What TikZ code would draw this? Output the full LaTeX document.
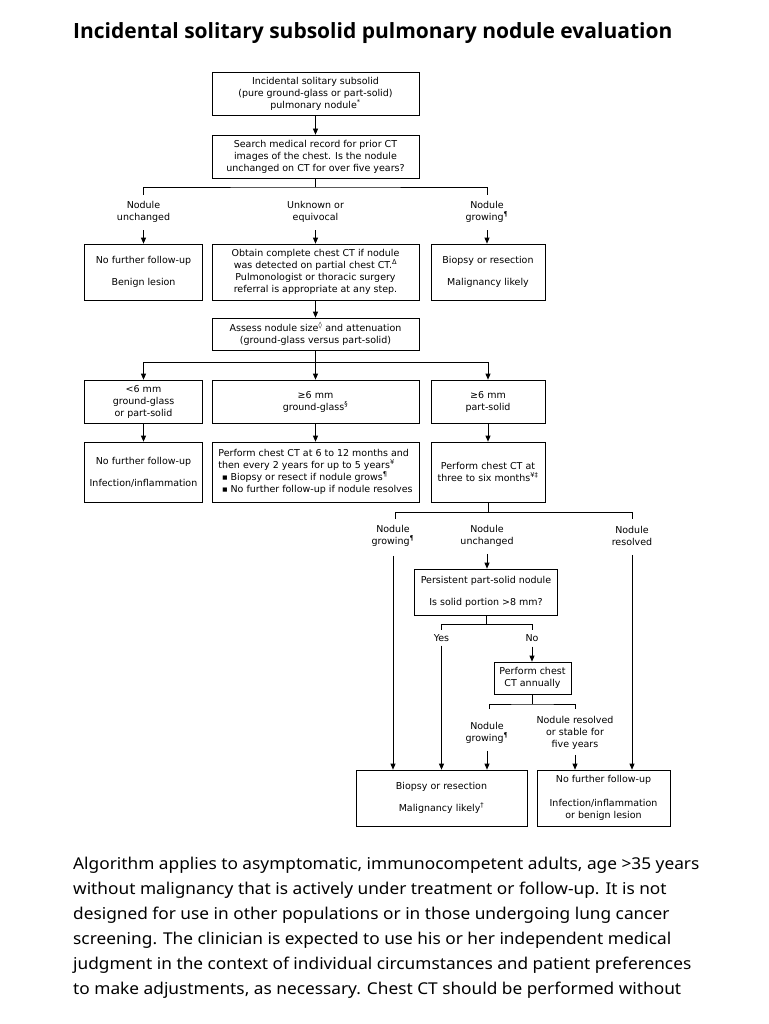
\documentclass[tikz,border=0pt]{standalone}
\usepackage{fontspec}
\setmainfont{DejaVu Sans}
\newfontfamily\dv{DejaVu Sans}
\newfontfamily\noto[FakeStretch=1.06]{Noto Sans}
\newfontfamily\titlefont{Open Sans}
\usetikzlibrary{arrows.meta}
\newcommand{\bul}{{\fontsize{5.5}{5}\selectfont\raisebox{0.8pt}{■}}}
\begin{document}
\begin{tikzpicture}[x=1pt,y=-1pt,
  box/.style={draw, line width=0.7pt, align=center, inner sep=1pt, font=\dv\fontsize{9.5}{12}\selectfont},
  lbl/.style={align=center, inner sep=1pt, font=\dv\fontsize{9.5}{12}\selectfont},
  arr/.style={line width=0.7pt, -{Triangle[length=6pt,width=5pt]}},
  ln/.style={line width=0.7pt},
  para/.style={anchor=base west, inner sep=0pt, font=\noto\fontsize{16.3}{25}\selectfont}]
\fill[white] (0,0) rectangle (768,1024);
\useasboundingbox (0,0) rectangle (768,1024);

\node[anchor=base west, inner sep=0pt, font=\titlefont\bfseries\fontsize{21}{25}\selectfont] (title) at (73,38.3) {Incidental solitary subsolid pulmonary nodule evaluation};

% top
\node[box, minimum width=207, minimum height=43] (b1) at (315.5,93.5) {Incidental solitary subsolid\\(pure ground-glass or part-solid)\\pulmonary nodule\textsuperscript{*}};
\node[box, minimum width=207, minimum height=43] (b2) at (315.5,156.5) {Search medical record for prior CT\\images of the chest. Is the nodule\\unchanged on CT for over five years?};
\draw[arr] (b1.south) -- (b2.north);

\coordinate (j1) at (315.5,187);
\coordinate (t1a) at (143.5,195);
\coordinate (t1c) at (487,195);
\draw[ln] (b2.south) -- (j1);
\draw[ln] (t1a) |- (j1) -| (t1c);
\node[lbl] (l1a) at (143.5,211.5) {Nodule\\unchanged};
\node[lbl] (l1b) at (315.5,211.5) {Unknown or\\equivocal};
\node[lbl] (l1c) at (487,211.5) {Nodule\\growing\textsuperscript{¶}};

\node[box, minimum width=118, minimum height=56] (b3a) at (143.5,272) {No further follow-up\\[9.7pt]Benign lesion};
\node[box, minimum width=207, minimum height=56] (b3b) at (315.5,272) {Obtain complete chest CT if nodule\\was detected on partial chest CT.\textsuperscript{Δ}\\Pulmonologist or thoracic surgery\\referral is appropriate at any step.};
\node[box, minimum width=114, minimum height=56] (b3c) at (488,272) {Biopsy or resection\\[9.7pt]Malignancy likely};
\draw[arr] (l1a.south) ++(0,7) -- (b3a.north);
\draw[arr] (l1b.south) ++(0,7) -- (b3b.north);
\draw[arr] (l1c.south) ++(0,7) -- (l1c.south |- b3c.north);

\node[box, minimum width=207, minimum height=32] (b4) at (315.5,334) {Assess nodule size\textsuperscript{◊} and attenuation\\(ground-glass versus part-solid)};
\draw[arr] (b3b.south) -- (b4.north);

\node[box, minimum width=118, minimum height=43] (b5a) at (143.5,401.5) {<6 mm\\ground-glass\\or part-solid};
\node[box, minimum width=207, minimum height=43] (b5b) at (315.5,401.5) {≥6 mm\\ground-glass\textsuperscript{§}};
\node[box, minimum width=114, minimum height=43] (b5c) at (488,401.5) {≥6 mm\\part-solid};
\coordinate (j2) at (315.5,362);
\draw[ln] (b4.south) -- (j2);
\draw[arr] (j2) -| (b5a.north);
\draw[arr] (j2) -| (b5c.north);
\draw[arr] (j2) -- (b5b.north);

\node[box, minimum width=118, minimum height=60] (b6a) at (143.5,472) {No further follow-up\\[10pt]Infection/inflammation};
\node[box, minimum width=207, minimum height=60, align=left] (b6b) at (315.5,472) {Perform chest CT at 6 to 12 months and\\then every 2 years for up to 5 years\textsuperscript{¥}\\\hspace*{4pt}\bul\ Biopsy or resect if nodule grows\textsuperscript{¶}\\\hspace*{4pt}\bul\ No further follow-up if nodule resolves};
\node[box, minimum width=114, minimum height=60] (b6c) at (488,472) {Perform chest CT at\\three to six months\textsuperscript{¥‡}};
\draw[arr] (b5a.south) -- (b6a.north);
\draw[arr] (b5b.south) -- (b6b.north);
\draw[arr] (b5c.south) -- (b6c.north);

% lower branch
\coordinate (j3) at (488,512.5);
\coordinate (t3a) at (395,518.5);
\coordinate (t3c) at (632,518.5);
\draw[ln] (b6c.south) -- (j3);
\draw[ln] (t3a) |- (j3) -| (t3c);
\node[lbl] (l3a) at (393,536) {Nodule\\growing\textsuperscript{¶}};
\node[lbl] (l3b) at (487,536) {Nodule\\unchanged};
\node[lbl] (l3c) at (632,536) {Nodule\\resolved};

\node[box, minimum width=143, minimum height=46] (b7) at (486,592) {Persistent part-solid nodule\\[10.5pt]Is solid portion >8 mm?};
\draw[arr] (l3b.south) ++(0,6) -- (l3b.south |- b7.north);

\coordinate (j4) at (486,624.5);
\coordinate (ty) at (441.5,629.5);
\coordinate (tn) at (532,629.5);
\draw[ln] (b7.south) -- (j4);
\draw[ln] (ty) |- (j4) -| (tn);
\node[lbl] (ly) at (441.5,638) {Yes};
\node[lbl] (lno) at (532,638) {No};

\node[box, minimum width=77, minimum height=32] (b8) at (532.5,678) {Perform chest\\CT annually};
\draw[arr] (lno.south) ++(0,4) -- (lno.south |- b8.north);

\coordinate (j5) at (532.5,704);
\coordinate (tg) at (489,709);
\coordinate (tr) at (575,709);
\draw[ln] (b8.south) -- (j5);
\draw[ln] (tg) |- (j5) -| (tr);
\node[lbl] (l5a) at (487,733) {Nodule\\growing\textsuperscript{¶}};
\node[lbl] (l5b) at (575,733) {Nodule resolved\\or stable for\\five years};

\node[box, minimum width=171, minimum height=56] (b9) at (441.5,798) {Biopsy or resection\\[10pt]Malignancy likely\textsuperscript{†}};
\node[box, minimum width=133, minimum height=56] (b10) at (603.5,798) {No further follow-up\\[12pt]Infection/inflammation\\or benign lesion};

\draw[arr] (l3a.south) ++(0,8) -- (l3a.south |- b9.north);
\draw[arr] (ly.south) ++(0,3) -- (ly.south |- b9.north);
\draw[arr] (l5a.south) ++(0,6) -- (l5a.south |- b9.north);
\draw[arr] (l5b.south) ++(0,4) -- (l5b.south |- b10.north);
\draw[arr] (l3c.south) ++(0,8) -- (l3c.south |- b10.north);

% paragraph
\node[para] (p1) at (73,869) {Algorithm applies to asymptomatic, immunocompetent adults, age >35 years};
\node[para] (p2) at (73,894) {without malignancy that is actively under treatment or follow-up. It is not};
\node[para] (p3) at (73,919) {designed for use in other populations or in those undergoing lung cancer};
\node[para] (p4) at (73,944) {screening. The clinician is expected to use his or her independent medical};
\node[para] (p5) at (73,969) {judgment in the context of individual circumstances and patient preferences};
\node[para] (p6) at (73,994) {to make adjustments, as necessary. Chest CT should be performed without};
\end{tikzpicture}
\end{document}
